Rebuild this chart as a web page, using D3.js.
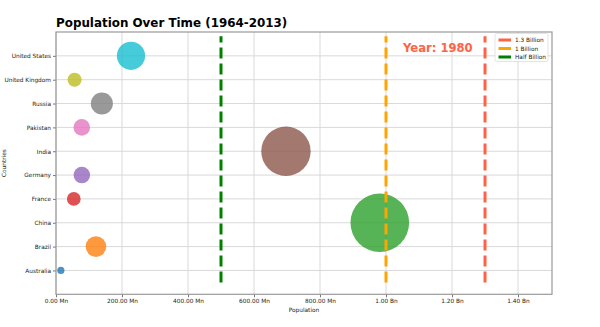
<!DOCTYPE html>
<html>
<head>
<meta charset="utf-8">
<script src="https://cdn.jsdelivr.net/npm/d3@7"></script>
<style>
  html, body { margin: 0; padding: 0; background: #fff; }
  svg { display: block; font-family: "DejaVu Sans", sans-serif; }
</style>
</head>
<body>
<svg id="chart" width="600" height="327"></svg>
<script>
// Countries, bottom to top, and their population in 1980
const countries = ["Australia", "Brazil", "China", "France", "Germany", "India", "Pakistan", "Russia", "United Kingdom", "United States"];
const population = [14.7e6, 121.0e6, 981.2e6, 53.9e6, 78.3e6, 696.8e6, 78.1e6, 139.0e6, 56.3e6, 227.2e6];
const colors = ["#1f77b4", "#ff7f0e", "#2ca02c", "#d62728", "#9467bd", "#8c564b", "#e377c2", "#7f7f7f", "#bcbd22", "#17becf"];

// Reference thresholds
const refLabels = ["1.3 Billion", "1 Billion", "Half Billion"];
const refValues = [1.3e9, 1.0e9, 0.5e9];
const refColors = ["tomato", "orange", "green"];

const xTicks = [0, 200e6, 400e6, 600e6, 800e6, 1.0e9, 1.2e9, 1.4e9];
const year = 1980;

const svg = d3.select("#chart");
const m = { left: 56, right: 552, top: 32, bottom: 294.3 };

const x = d3.scaleLinear().domain([0, 1.503e9]).range([m.left, m.right]);
const y = d3.scaleLinear().domain([-1, 10]).range([m.bottom, m.top]);
const r = d3.scaleSqrt().domain([0, 1e9]).range([0, 29.6]);

const fmt = v => v >= 1e9 ? (v / 1e9).toFixed(2) + " Bn" : (v / 1e6).toFixed(2) + " Mn";

// Grid
const grid = svg.append("g");
grid.selectAll("line.vx").data(xTicks).join("line")
  .attr("x1", d => x(d)).attr("x2", d => x(d))
  .attr("y1", m.top).attr("y2", m.bottom)
  .attr("stroke", "#d9d9d9").attr("stroke-width", 1);
grid.selectAll("line.hy").data(countries).join("line")
  .attr("x1", m.left).attr("x2", m.right)
  .attr("y1", (d, i) => y(i)).attr("y2", (d, i) => y(i))
  .attr("stroke", "#d9d9d9").attr("stroke-width", 1);

// Axes
const xAxis = svg.append("g").attr("transform", `translate(0,${m.bottom})`)
  .call(d3.axisBottom(x).tickValues(xTicks).tickFormat(fmt).tickSize(3).tickPadding(2));
const yAxis = svg.append("g").attr("transform", `translate(${m.left},0)`)
  .call(d3.axisLeft(y).tickValues(d3.range(countries.length)).tickFormat(i => countries[i]).tickSize(3).tickPadding(2));
[xAxis, yAxis].forEach(a => {
  a.select(".domain").remove();
  a.selectAll(".tick line").attr("stroke", "#555").attr("stroke-width", 0.8);
  a.selectAll(".tick text").attr("fill", "#222").style("font-size", "5.8px").style("font-family", "DejaVu Sans");
});

// Frame
svg.append("rect")
  .attr("x", m.left).attr("y", m.top)
  .attr("width", m.right - m.left).attr("height", m.bottom - m.top)
  .attr("fill", "none").attr("stroke", "#999").attr("stroke-width", 1.2);

// Bubbles
svg.append("g").selectAll("circle").data(population).join("circle")
  .attr("cx", d => x(d))
  .attr("cy", (d, i) => y(i))
  .attr("r", d => r(d))
  .attr("fill", (d, i) => colors[i])
  .attr("fill-opacity", 0.8);

// Reference lines
svg.append("g").selectAll("line").data(refValues).join("line")
  .attr("x1", d => x(d)).attr("x2", d => x(d))
  .attr("y1", y(-0.5)).attr("y2", y(9.82))
  .attr("stroke", (d, i) => refColors[i])
  .attr("stroke-width", 3)
  .attr("stroke-dasharray", "11,5");

// Year label
svg.append("text")
  .attr("x", 403).attr("y", 51.5)
  .attr("fill", "tomato")
  .style("font-size", "11.6px").style("font-weight", "bold")
  .text("Year: " + year);

// Legend
const lg = svg.append("g");
lg.append("rect")
  .attr("x", 495).attr("y", 33.5).attr("width", 53).attr("height", 28)
  .attr("rx", 1.5).attr("fill", "#fff").attr("fill-opacity", 0.8)
  .attr("stroke", "#ddd").attr("stroke-width", 0.8);
const items = lg.selectAll("g.item").data(refLabels).join("g")
  .attr("transform", (d, i) => `translate(0,${40 + i * 8.5})`);
items.append("line")
  .attr("x1", 498.5).attr("x2", 511)
  .attr("stroke", (d, i) => refColors[i]).attr("stroke-width", 3);
items.append("text")
  .attr("x", 515).attr("y", 2)
  .style("font-size", "5.8px").attr("fill", "#222")
  .text(d => d);

// Title and axis labels
svg.append("text")
  .attr("x", 56).attr("y", 26.5)
  .style("font-size", "11.9px").style("font-weight", "bold").attr("fill", "#000")
  .text("Population Over Time (1964-2013)");
svg.append("text")
  .attr("x", (m.left + m.right) / 2).attr("y", 312)
  .attr("text-anchor", "middle")
  .style("font-size", "5.8px").attr("fill", "#222")
  .text("Population");
svg.append("text")
  .attr("transform", `translate(6,${(m.top + m.bottom) / 2}) rotate(-90)`)
  .attr("text-anchor", "middle")
  .style("font-size", "5.8px").attr("fill", "#222")
  .text("Countries");
</script>
</body>
</html>
